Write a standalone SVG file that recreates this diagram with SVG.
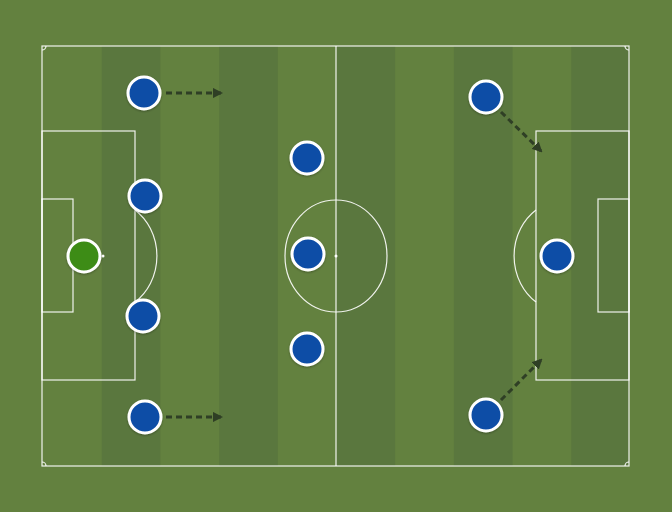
<svg xmlns="http://www.w3.org/2000/svg" width="672" height="512" viewBox="0 0 672 512">
  <defs>
    <style>
      .line{fill:none;stroke:#ffffff;stroke-width:1.2;stroke-opacity:0.9}
      .dark{fill:#5a773e}
      .p{fill:#0d4da6;stroke:#ffffff;stroke-width:3}
      .gk{fill:#3d8c18;stroke:#ffffff;stroke-width:3}
      .run{fill:none;stroke:#2f3f25;stroke-width:3;stroke-dasharray:6 4}
    </style>
    <marker id="ah" viewBox="0 0 10 10" refX="8" refY="5" markerWidth="3.5" markerHeight="3.5" orient="auto" markerUnits="strokeWidth">
      <path d="M0,0 L10,5 L0,10 Z" fill="#2f3f25"/>
    </marker>
    <filter id="sh" x="-30%" y="-30%" width="160%" height="160%">
      <feDropShadow dx="0" dy="1" stdDeviation="1" flood-color="#000" flood-opacity="0.3"/>
    </filter>
  </defs>
  <rect x="0" y="0" width="672" height="512" fill="#63813f"/>
  <g id="pitch">
    <rect x="42" y="46" width="587" height="420" fill="#63813f"/>
    <rect class="dark" x="101.7" y="46" width="58.7" height="420"/>
    <rect class="dark" x="219.1" y="46" width="58.7" height="420"/>
    <rect class="dark" x="336.5" y="46" width="58.7" height="420"/>
    <rect class="dark" x="453.9" y="46" width="58.7" height="420"/>
    <rect class="dark" x="571.3" y="46" width="57.7" height="420"/>
    <rect class="line" x="42" y="46" width="587" height="420"/>
    <line class="line" x1="336" y1="46" x2="336" y2="466"/>
    <ellipse class="line" cx="336" cy="256" rx="51" ry="56"/>
    <circle cx="336" cy="256" r="1.5" fill="#fff"/>
    <rect class="line" x="42" y="131" width="93" height="249"/>
    <rect class="line" x="42" y="199" width="31" height="113"/>
    <path class="line" d="M135,210 A51,56 0 0 1 135,302"/>
    <circle cx="103" cy="256" r="1.5" fill="#fff"/>
    <rect class="line" x="536" y="131" width="93" height="249"/>
    <rect class="line" x="598" y="199" width="31" height="113"/>
    <path class="line" d="M536,210 A51,56 0 0 0 536,302"/>
    <circle cx="568" cy="256" r="1.5" fill="#fff"/>
    <path class="line" d="M42,50 A4,4 0 0 0 46,46"/>
    <path class="line" d="M625,46 A4,4 0 0 0 629,50"/>
    <path class="line" d="M42,462 A4,4 0 0 1 46,466"/>
    <path class="line" d="M625,466 A4,4 0 0 1 629,462"/>
  </g>
  <g id="connectors">
    <line class="run" x1="166" y1="93" x2="221" y2="93" marker-end="url(#ah)"/>
    <line class="run" x1="166" y1="417" x2="221" y2="417" marker-end="url(#ah)"/>
    <line class="run" x1="501" y1="112" x2="541" y2="151" marker-end="url(#ah)"/>
    <line class="run" x1="501" y1="400" x2="541" y2="360" marker-end="url(#ah)"/>
  </g>
  <g id="gk" filter="url(#sh)"><circle class="gk" cx="84" cy="256" r="16"/></g>
  <g id="p1" filter="url(#sh)"><circle class="p" cx="144" cy="93" r="16"/></g>
  <g id="p2" filter="url(#sh)"><circle class="p" cx="145" cy="196" r="16"/></g>
  <g id="p3" filter="url(#sh)"><circle class="p" cx="143" cy="316" r="16"/></g>
  <g id="p4" filter="url(#sh)"><circle class="p" cx="145" cy="417" r="16"/></g>
  <g id="p5" filter="url(#sh)"><circle class="p" cx="307" cy="158" r="16"/></g>
  <g id="p6" filter="url(#sh)"><circle class="p" cx="308" cy="254" r="16"/></g>
  <g id="p7" filter="url(#sh)"><circle class="p" cx="307" cy="349" r="16"/></g>
  <g id="p8" filter="url(#sh)"><circle class="p" cx="486" cy="97" r="16"/></g>
  <g id="p9" filter="url(#sh)"><circle class="p" cx="557" cy="256" r="16"/></g>
  <g id="p10" filter="url(#sh)"><circle class="p" cx="486" cy="415" r="16"/></g>
</svg>
